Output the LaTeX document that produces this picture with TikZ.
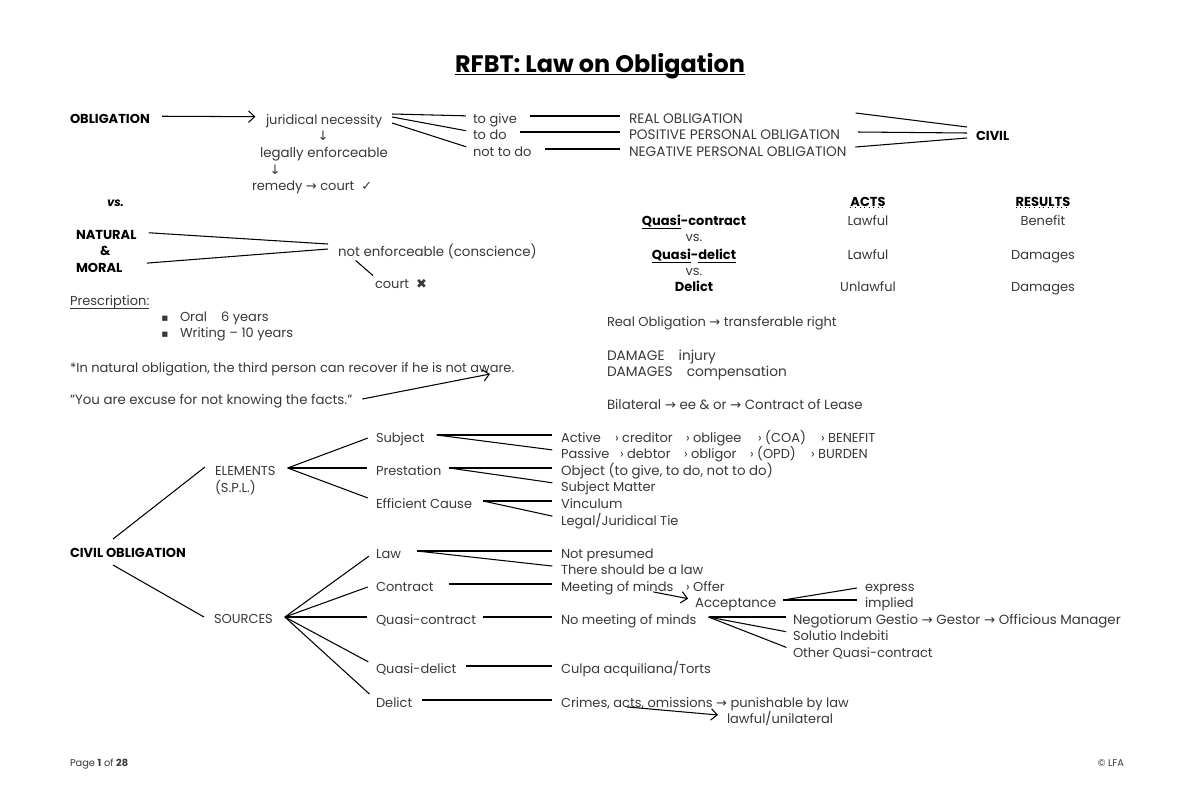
\documentclass[tikz,border=0pt]{standalone}
\usepackage{fontspec}
\setmainfont{Poppins}
\newfontfamily\symfont{DejaVu Sans}
\usetikzlibrary{arrows.meta}
\newcommand{\tarr}{{\symfont →}}
\newcommand{\ul}[1]{\underline{\smash{#1}}}
\begin{document}
\begin{tikzpicture}[x=.02cm,y=-.02cm]
\tikzstyle{every node}=[anchor=west, inner sep=0pt, outer sep=0pt, text height=11pt, text depth=2pt, font=\fontsize{7.4}{9}\selectfont, text=black!78]
\tikzstyle{hd}=[text=black, font=\fontsize{7.4}{9}\selectfont\bfseries]
\tikzstyle{mid}=[anchor=center]
\tikzstyle{tiny}=[font=\fontsize{5.6}{7}\selectfont]
\tikzstyle{caps}=[font=\fontsize{7.8}{9}\selectfont]
\tikzstyle{wd}=[font=\fontsize{7.6}{9}\selectfont]
\tikzstyle{ln}=[line width=.6pt]
\tikzstyle{ar}=[line width=.6pt, -{Straight Barb[length=3.5pt,width=6.5pt]}]
\useasboundingbox (0,2) rectangle (1200,787);
\draw (600,64) node (title) [mid, text=black, text height=14.4pt, text depth=3pt, font=\fontsize{13.6}{16}\selectfont\bfseries] {\ul{RFBT: Law on Obligation}};
\draw (70,118) node (oblig) [hd] {OBLIGATION};
\draw (266,119) node (jur) {juridical necessity};
\draw (323,135) node (dn1) [mid] {\symfont ↓};
\draw (260,152) node (legal) [wd] {legally enforceable};
\draw (275,169) node (dn2) [mid] {\symfont ↓};
\draw (252,185) node (remedy) {remedy \tarr{} court\ \ {\symfont ✓}};
\draw (473,118) node (give) {to give};
\draw (473,134) node (todo) {to do};
\draw (473,151) node (nottodo) {not to do};
\draw (629,118) node (real) [caps] {REAL OBLIGATION};
\draw (629,134) node (pos) [caps] {POSITIVE PERSONAL OBLIGATION};
\draw (629,151) node (neg) [caps] {NEGATIVE PERSONAL OBLIGATION};
\draw (976,135) node (civil) [hd] {CIVIL};
\draw (107,201) node (vs0) [hd, font=\fontsize{6.6}{9}\selectfont\bfseries\itshape] {vs.};
\draw (76,234) node (natural) [hd] {NATURAL};
\draw (100,250) node (amp) [hd] {\&};
\draw (76,267) node (moral) [hd] {MORAL};
\draw (338,251) node (notenf) [wd] {not enforceable (conscience)};
\draw (375,283) node (court) {court\ \ {\symfont ✖}};
\draw (70,300) node (presc) {\ul{Prescription:}};
\draw (165,316) node (b1) [mid, font=\fontsize{6}{9}\selectfont] {\symfont ▪};
\draw (165,332) node (b2) [mid, font=\fontsize{6}{9}\selectfont] {\symfont ▪};
\draw (180,316) node (oral) {Oral\hspace{8pt}6 years};
\draw (180,332) node (writing) {Writing – 10 years};
\draw (70,367) node (third) {*In natural obligation, the third person can recover if he is not aware.};
\draw (70,399) node (excuse) [wd] {"You are excuse for not knowing the facts."};
\coordinate (aware) at (490,376);
\draw (868,201) node (acts) [mid, hd] {ACTS};
\draw (1043,201) node (results) [mid, hd] {RESULTS};
\draw (694,220) node (qc) [mid, hd] {\ul{Quasi}-contract};
\draw (694,236) node (vs1) [mid] {vs.};
\draw (694,254) node (qd) [mid, hd] {\ul{Quasi}-\ul{delict}};
\draw (694,270) node (vs2) [mid] {vs.};
\draw (694,286) node (del) [mid, hd] {Delict};
\draw (868,220) node (a1) [mid] {Lawful};
\draw (868,254) node (a2) [mid] {Lawful};
\draw (868,286) node (a3) [mid] {Unlawful};
\draw (1043,220) node (r1) [mid] {Benefit};
\draw (1043,254) node (r2) [mid] {Damages};
\draw (1043,286) node (r3) [mid] {Damages};
\draw (607,321) node (robl) {Real Obligation \tarr{} transferable right};
\draw (607,355) node (dmg) [caps] {DAMAGE\hspace{8pt}injury};
\draw (607,371) node (dmgs) [caps] {DAMAGES\hspace{8pt}compensation};
\draw (607,404) node (bil) [wd] {Bilateral \tarr{} ee \& or \tarr{} Contract of Lease};
\draw (70,552) node (cobl) [hd] {CIVIL OBLIGATION};
\draw (215,470) node (elem) {ELEMENTS};
\draw (215,487) node (spl) {(S.P.L.)};
\draw (214,618) node (src) {SOURCES};
\draw (376,437) node (subj) {Subject};
\draw (376,470) node (prest) {Prestation};
\draw (376,503) node (eff) {Efficient Cause};
\draw (376,553) node (law) {Law};
\draw (376,586) node (contr) {Contract};
\draw (376,619) node (quasic) {Quasi-contract};
\draw (376,668) node (quasid) {Quasi-delict};
\draw (376,702) node (delict) {Delict};
\draw (561,437) node (active) {Active};
\draw (615,437) node (ac1) {› creditor};
\draw (686,437) node (ac2) {› obligee};
\draw (758,437) node (ac3) {› (COA)};
\draw (821,437) node (ac4) {› BENEFIT};
\draw (561,453) node (passive) {Passive};
\draw (620,453) node (pa1) {› debtor};
\draw (684,453) node (pa2) {› obligor};
\draw (750,453) node (pa3) {› (OPD)};
\draw (811,453) node (pa4) {› BURDEN};
\draw (561,470) node (object) [wd] {Object (to give, to do, not to do)};
\draw (561,486) node (matter) {Subject Matter};
\draw (561,503) node (vinc) {Vinculum};
\draw (561,520) node (tie) {Legal/Juridical Tie};
\draw (561,553) node (presum) {Not presumed};
\draw (561,569) node (there) {There should be a law};
\draw (561,586) node (meet) {Meeting of minds};
\draw (686,586) node (offer) {› Offer};
\draw (695,602) node (accept) [wd] {Acceptance};
\draw (865,586) node (expr) {express};
\draw (865,602) node (impl) {implied};
\draw (561,619) node (nomeet) {No meeting of minds};
\draw (793,619) node (nego) [wd] {Negotiorum Gestio \tarr{} Gestor \tarr{} Officious Manager};
\draw (793,635) node (solu) {Solutio Indebiti};
\draw (793,652) node (other) {Other Quasi-contract};
\draw (561,668) node (culpa) {Culpa acquiliana/Torts};
\draw (561,702) node (crimes) {Crimes, acts, omissions \tarr{} punishable by law};
\draw (727,718) node (lawful) {lawful/unilateral};
\draw (70,761) node (page) [tiny] {Page {\bfseries 1} of {\bfseries 28}};
\draw (1124,761) node (lfa) [tiny, anchor=east] {© LFA};
\draw[ar, shorten <=7pt, shorten >=6pt] (oblig) -- (jur);
\draw[ln, shorten >=4pt] ([shift={(10,-3)}]jur.east) -- (give.west);
\draw[ln, shorten >=4pt] ([shift={(10,0)}]jur.east) -- (todo.west);
\draw[ln, shorten >=4pt] ([shift={(10,6)}]jur.east) -- (nottodo.west);
\draw[ln, shorten >=5pt] ([shift={(13,0)}]give.east) -- (real.west);
\draw[ln, shorten >=5pt] ([shift={(13,0)}]todo.east) -- (pos.west);
\draw[ln, shorten >=5pt] ([shift={(14,0)}]nottodo.east) -- (neg.west);
\draw[ln] ([shift={(113,-3)}]real.east) -- ([shift={(-9,-6)}]civil.west);
\draw[ln] ([shift={(18,0)}]pos.east) -- ([shift={(-9,0)}]civil.west);
\draw[ln] ([shift={(9,-2)}]neg.east) -- ([shift={(-9,5)}]civil.west);
\draw[ln, shorten <=7pt] (natural.east) -- ([shift={(-10,-5)}]notenf.west);
\draw[ln, shorten <=14pt] (moral.east) -- ([shift={(-10,0)}]notenf.west);
\draw[ln] ([xshift=10pt]notenf.south west) -- ([shift={(-2,6)}]court.north west);
\draw[ar] ([shift={(10,2)}]excuse.east) -- (aware);
\draw[dotted, ln] ([yshift=1.7pt]acts.south west) -- ([yshift=1.7pt]acts.south east);
\draw[dotted, ln] ([yshift=1.7pt]results.south west) -- ([yshift=1.7pt]results.south east);
\draw[ln] ([shift={(43,-11)}]cobl.west) -- ([shift={(-10,-1)}]elem.west);
\draw[ln] ([shift={(43,15)}]cobl.west) -- ([shift={(-10,1)}]src.west);
\draw[ln, shorten >=5pt] ([shift={(12,0)}]elem.east) -- (subj.west);
\draw[ln, shorten >=5pt] ([shift={(12,0)}]elem.east) -- (prest.west);
\draw[ln, shorten >=5pt] ([shift={(12,0)}]elem.east) -- (eff.west);
\foreach \v in {law, contr, quasic, quasid, delict}
  \draw[ln, shorten >=5pt] ([shift={(12,1)}]src.east) -- (\v.west);
\draw[ln, shorten >=5pt] ([shift={(12,0)}]subj.east) -- (active.west);
\draw[ln, shorten >=5pt] ([shift={(12,0)}]subj.east) -- (passive.west);
\draw[ln, shorten >=5pt] ([shift={(8,0)}]prest.east) -- (object.west);
\draw[ln, shorten >=5pt] ([shift={(8,0)}]prest.east) -- (matter.west);
\draw[ln, shorten >=5pt] ([shift={(11,0)}]eff.east) -- (vinc.west);
\draw[ln, shorten >=5pt] ([shift={(11,0)}]eff.east) -- (tie.west);
\draw[ln, shorten >=5pt] ([shift={(16,0)}]law.east) -- (presum.west);
\draw[ln, shorten >=5pt] ([shift={(16,0)}]law.east) -- (there.west);
\draw[ln, shorten >=5pt] ([shift={(15,0)}]contr.east) -- (meet.west);
\draw[ln, shorten >=5pt] ([shift={(7,0)}]quasic.east) -- (nomeet.west);
\draw[ln, shorten >=5pt] ([shift={(10,0)}]quasid.east) -- (culpa.west);
\draw[ln, shorten >=5pt] ([shift={(10,0)}]delict.east) -- (crimes.west);
\draw[ar, shorten >=4pt] ([shift={(-20,-3.5)}]meet.south east) -- (accept.west);
\draw[ln] ([shift={(7,0)}]accept.east) -- ([shift={(-8,4)}]expr.west);
\draw[ln] ([shift={(7,0)}]accept.east) -- ([shift={(-8,0)}]impl.west);
\draw[ln, shorten >=4pt] ([shift={(12,0)}]nomeet.east) -- (nego.west);
\draw[ln, shorten >=4pt] ([shift={(12,0)}]nomeet.east) -- (solu.west);
\draw[ln, shorten >=4pt] ([shift={(12,0)}]nomeet.east) -- (other.west);
\draw[ar] ([shift={(-78,-4.5)}]crimes.south) -- ([shift={(-9,-1)}]lawful.west);
\end{tikzpicture}
\end{document}
